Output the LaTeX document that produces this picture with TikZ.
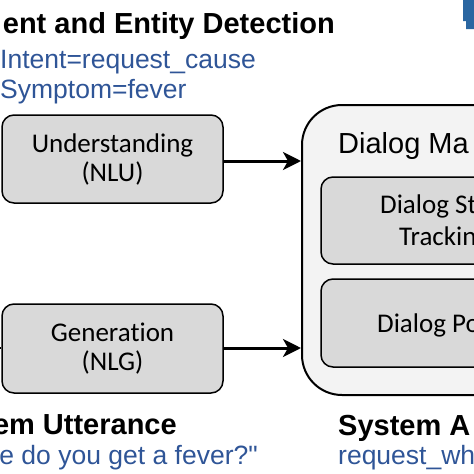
\documentclass[tikz,border=0pt]{standalone}
\usepackage{fontspec}
\setmainfont{Liberation Sans}
\newfontfamily\carlito[Ligatures=NoCommon]{Carlito}
\usepackage{xcolor}
\usetikzlibrary{arrows.meta}
\definecolor{slotblue}{RGB}{47,85,151}
\definecolor{boxgray}{RGB}{217,217,217}
\definecolor{panelgray}{RGB}{243,243,243}
\tikzstyle{modbox}=[draw,line width=1.5pt,fill=boxgray,rounded corners=12pt,font=\carlito\fontsize{27}{29}\selectfont,align=center]
\tikzstyle{modtext}=[font=\carlito\fontsize{27}{29}\selectfont,inner sep=0pt,anchor=base west]
\tikzstyle{panel} =[draw,line width=2pt,fill=panelgray,rounded corners=40pt]
\tikzstyle{head}  =[font=\bfseries\fontsize{29}{30}\selectfont,inner sep=0pt]
\tikzstyle{slot}  =[font=\fontsize{26.5}{28}\selectfont,text=slotblue,inner sep=0pt]
\tikzstyle{flow}  =[line width=3pt,-{Stealth[length=18pt,width=18pt,inset=5pt]}]
\begin{document}
\begin{tikzpicture}[x=1pt,y=-1pt]
	\useasboundingbox (0,0) rectangle (474,474);
	\clip (0,0) rectangle (474,474);
	\fill[slotblue!90!cyan] (463,0) -- (474,0) -- (474,29) -- (466,29) -- (466,21) -- (463,21) -- cycle;
	% left column
	\node[head,anchor=base east] (nluhead) at (335,33) {ent and Entity Detection};
	\node[slot,anchor=base west] (intent) at (0,68) {Intent=request\_cause};
	\node[slot,anchor=base west] (symptom) at (0,98) {Symptom=fever};
	\node[modbox,minimum width=221pt,minimum height=88pt] (nlu) at (112.5,159) {Understanding\\(NLU)};
	\node[modbox,minimum width=221pt,minimum height=89pt] (nlg) at (112.5,348.5) {Generation\\(NLG)};
	\node[head,anchor=base east] (nlghead) at (177,434) {em Utterance};
	\node[slot,anchor=base east] (reply) at (258,464) {e do you get a fever?\textquotedbl};
	% dialog manager
	\node[panel,minimum width=258pt,minimum height=290pt] (dm) at (431,250) {};
	\node[font=\fontsize{29}{30}\selectfont,inner sep=0pt,anchor=base west] (dmtitle) at (338,153) {Dialog Ma};
	\node[modbox,minimum width=238pt,minimum height=87pt] (dst) at (440,220.5) {};
	\node[modtext] (dsta) at (380,213) {Dialog St};
	\node[modtext] (dstb) at (399,245) {Trackin};
	\node[modbox,minimum width=238pt,minimum height=88pt] (pol) at (440,323) {};
	\node[modtext] (polt) at (377,332) {Dialog Po};
	\node[head,anchor=base west] (acthead) at (338,435) {System A};
	\node[slot,anchor=base west] (act) at (338,464) {request\_wh};
	% connectors
	\coordinate (out) at (-12,348);
	\draw[flow] (nlu.east |- 0,161) -- (dm.west |- 0,161);
	\draw[flow] (nlg.east |- 0,348) -- (dm.west |- 0,348);
	\draw[line width=2pt] (nlg.west |- out) -- (out);
\end{tikzpicture}
\end{document}
